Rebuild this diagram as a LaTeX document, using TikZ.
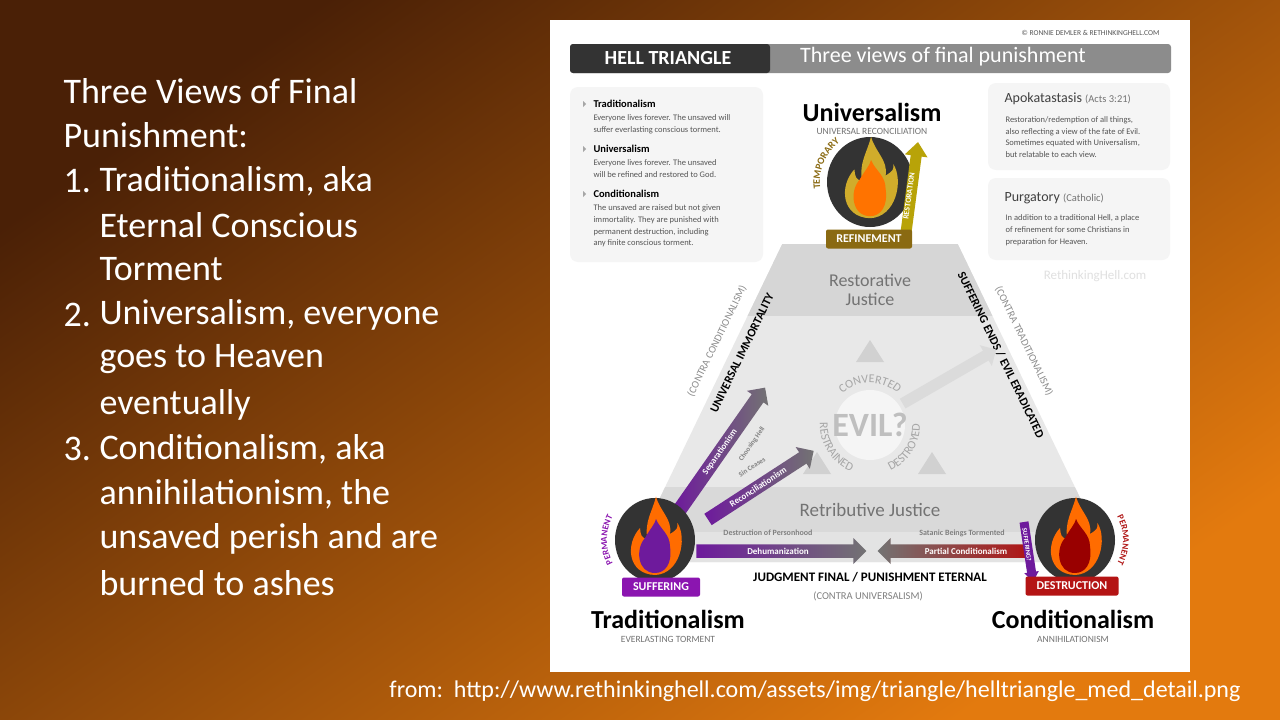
\documentclass[tikz,border=0pt]{standalone}
\usepackage{fontspec}
\setmainfont{Carlito}
\usetikzlibrary{shapes.arrows,decorations.text,arrows.meta}
\definecolor{bgA}{HTML}{4A2006}
\definecolor{bgB}{HTML}{E37A0E}
\definecolor{pur}{HTML}{6E1A9C}
\definecolor{redd}{HTML}{B01515}
\definecolor{gold}{HTML}{8A6A12}
\definecolor{yel}{HTML}{D9C00A}
\definecolor{txg}{HTML}{555555}
\tikzset{
 slide/.style={text=white,anchor=west,font=\fontsize{36}{40}\selectfont},
 fs/.style={font=\fontsize{#1}{#1}\selectfont},
 bfs/.style={font=\fontsize{#1}{#1}\selectfont\bfseries},
 hd/.style={anchor=west,font=\fontsize{10.5}{11}\selectfont\bfseries},
 bd/.style={anchor=west,text=txg,font=\fontsize{8.5}{9}\selectfont},
 bigarr/.style={single arrow,draw=none,minimum width=26pt,single arrow head extend=5pt,single arrow tip angle=90,inner sep=2pt,text=white,font=\fontsize{9}{9}\selectfont\bfseries},
 lab/.style={rounded corners=2pt,text=white,font=\fontsize{12}{12}\selectfont\bfseries,minimum height=19pt},
}
\newcommand\myflame[2]{%
 \fill[#1] (0,-0.62) .. controls (-0.55,-0.6) and (-0.6,0) .. (-0.3,0.32) .. controls (-0.28,0.15) .. (-0.15,0.08) .. controls (-0.22,0.45) and (-0.05,0.65) .. (0.02,0.95) .. controls (0.1,0.65) and (0.35,0.5) .. (0.3,0.2) .. controls (0.45,0.3) .. (0.45,0.42) .. controls (0.65,0.1) and (0.5,-0.6) .. cycle;
 \fill[#2] (0,-0.58) .. controls (-0.35,-0.58) and (-0.4,-0.1) .. (-0.2,0.12) .. controls (-0.1,0.3) and (0,0.4) .. (0.02,0.5) .. controls (0.1,0.3) and (0.3,0.2) .. (0.3,-0.05) .. controls (0.35,-0.4) and (0.2,-0.58) .. cycle;}
\begin{document}
\begin{tikzpicture}[x=1pt,y=-1pt]
\useasboundingbox (0,0) rectangle (1280,720);
\shade[top color=bgA,bottom color=bgB,shading angle=35] (0,0) rectangle (1280,720);
% slide text
\node[slide] (t0) at (60,91) {Three Views of Final};
\node[slide] (t1) at (60,135) {Punishment:};
\node[slide] (n1) at (60,181) {1.};
\node[slide] (t2) at (96,181) {Traditionalism, aka};
\node[slide] (t3) at (96,225) {Eternal Conscious};
\node[slide] (t4) at (96,269) {Torment};
\node[slide] (n2) at (60,315) {2.};
\node[slide] (t5) at (96,315) {Universalism, everyone};
\node[slide] (t6) at (96,359) {goes to Heaven};
\node[slide] (t7) at (96,405) {eventually};
\node[slide] (n3) at (60,449) {3.};
\node[slide] (t8) at (96,449) {Conditionalism, aka};
\node[slide] (t9) at (96,494) {annihilationism, the};
\node[slide] (t10) at (96,539) {unsaved perish and are};
\node[slide] (t11) at (96,583) {burned to ashes};
\node[text=white,fs=24] (src) at (815,691) {from:\ \ http://www.rethinkinghell.com/assets/img/triangle/helltriangle\_med\_detail.png};
% panel
\fill[white] (550,20) rectangle (1190,672);
\node[anchor=east,text=txg,fs=7.5] (copy) at (1163,33) {© RONNIE DEMLER \& RETHINKINGHELL.COM};
\fill[black!45,rounded corners=3pt] (570,44) rectangle (1171,73);
\fill[black!80,rounded corners=3pt] (570,44) rectangle (770,73);
\fill[black!80] (740,44) rectangle (763,73);
\node[text=white,bfs=20] (ht) at (668,58) {HELL TRIANGLE};
\node[text=white,fs=22] (tv) at (943,57) {Three views of final punishment};
% info boxes
\fill[black!4,rounded corners=8pt] (570,87) rectangle (763,262);
\fill[black!4,rounded corners=8pt] (988,83) rectangle (1170,170);
\fill[black!4,rounded corners=8pt] (988,178) rectangle (1170,260);
\foreach \yy in {104,149,194} \fill[black!35] (583,\yy-3) -- (586,\yy) -- (583,\yy+3) -- cycle;
\node[hd] (h1) at (590,104) {Traditionalism};
\node[bd] (b1) at (590,118) {Everyone lives forever. The unsaved will};
\node[bd] (b2) at (590,130) {suffer everlasting conscious torment.};
\node[hd] (h2) at (590,149) {Universalism};
\node[bd] (b3) at (590,163) {Everyone lives forever. The unsaved};
\node[bd] (b4) at (590,175) {will be refined and restored to God.};
\node[hd] (h3) at (590,194) {Conditionalism};
\node[bd] (b5) at (590,208) {The unsaved are raised but not given};
\node[bd] (b6) at (590,220) {immortality. They are punished with};
\node[bd] (b7) at (590,232) {permanent destruction, including};
\node[bd] (b8) at (590,243) {any finite conscious torment.};
\node[anchor=west,text=black!75,fs=14] (ap) at (1001,99) {Apokatastasis {\fontsize{10.5}{10}\selectfont\color{black!55}(Acts 3:21)}};
\node[bd] (a1) at (1002,120) {Restoration/redemption of all things,};
\node[bd] (a2) at (1002,132) {also reflecting a view of the fate of Evil.};
\node[bd] (a3) at (1002,143) {Sometimes equated with Universalism,};
\node[bd] (a4) at (1002,155) {but relatable to each view.};
\node[anchor=west,text=black!75,fs=14] (pu) at (1001,198) {Purgatory {\fontsize{10.5}{10}\selectfont\color{black!55}(Catholic)}};
\node[bd] (p1) at (1002,218) {In addition to a traditional Hell, a place};
\node[bd] (p2) at (1002,230) {of refinement for some Christians in};
\node[bd] (p3) at (1002,242) {preparation for Heaven.};
\node[text=black!12,fs=13] (rh) at (1095,276) {RethinkingHell.com};
% triangle
\begin{scope}
\clip (870,62) -- (1111,562) -- (629,562) -- cycle;
\fill[black!9] (600,244) rectangle (1140,565);
\fill[black!16] (600,244) rectangle (1140,316);
\fill[black!15] (600,487) rectangle (1140,532);
\fill[black!11] (600,532) rectangle (1140,565);
\end{scope}
\node[text=black!55,fs=18,align=center] (rj) at (870,290) {Restorative\\[1pt]Justice};
\node[text=black!55,fs=19] (ret) at (870,510) {Retributive Justice};
% edge labels
\node[rotate=64,bfs=12] (ui) at (742,353) {UNIVERSAL IMMORTALITY};
\node[rotate=64,fs=10.5,text=black!45] (cc) at (717,341) {(CONTRA CONDITIONALISM)};
\node[rotate=-64,bfs=12] (se) at (1001,355) {SUFFERING ENDS / EVIL ERADICATED};
\node[rotate=-64,fs=10.5,text=black!45] (ct) at (1024,341) {(CONTRA TRADITIONALISM)};
\node[bfs=13] (jf) at (870,577) {JUDGMENT FINAL / PUNISHMENT ETERNAL};
\node[fs=10.5,text=black!50] (cu) at (868,596) {(CONTRA UNIVERSALISM)};
% evil
\fill[black!18] (856,362) -- (884,362) -- (870,340) -- cycle;
\fill[black!18] (803,474) -- (831,474) -- (817,452) -- cycle;
\fill[black!18] (918,474) -- (946,474) -- (932,452) -- cycle;
\node[single arrow,draw=none,fill=black!14,minimum width=24pt,single arrow head extend=4pt,minimum height=108pt,rotate=30] (ga) at (947,378) {};
\fill[black!4] (870,425) circle (35);
\node[text=black!25,bfs=34] (evil) at (870,425) {EVIL?};
\begin{scope}[shift={(870,425)},y=1pt]
\path[decorate,decoration={text along path,text align=center,text={|\color{black!35}\fontsize{12}{12}\selectfont|CONVERTED}}] (148:42) arc[start angle=148,end angle=32,radius=42];
\path[decorate,decoration={text along path,text align=center,text={|\color{black!35}\fontsize{12}{12}\selectfont|RESTRAINED}}] (160:50) arc[start angle=160,end angle=265,radius=50];
\path[decorate,decoration={text along path,text align=center,text={|\color{black!35}\fontsize{12}{12}\selectfont|DESTROYED}}] (280:50) arc[start angle=280,end angle=375,radius=50];
\end{scope}
% arrows
\node[bigarr,left color=pur,right color=black!55,minimum height=150pt,rotate=55] (sep) at (720,452) {Separationism\hspace{45pt}};
\node[bigarr,left color=pur,right color=black!55,minimum height=126pt,rotate=33] (rec) at (758,487) {Reconciliationism\hspace{18pt}};
\node[bigarr,left color=pur,right color=black!55,minimum height=170pt] (deh) at (778,551) {Dehumanization\hspace{20pt}};
\node[bigarr,shape border rotate=180,left color=black!55,right color=redd,minimum height=150pt] (pc) at (956,551) {\hspace{20pt}Partial Conditionalism};
\node[rotate=55,text=black!50,bfs=7] (ch) at (752,444) {Choosing Hell};
\node[rotate=33,text=black!50,bfs=7] (sc) at (752,467) {Sin Ceases};
\node[text=black!50,bfs=8] (dp) at (768,533) {Destruction of Personhood};
\node[text=black!50,bfs=8] (sb) at (962,533) {Satanic Beings Tormented};
% circles
\fill[black!80] (870,182) ellipse (43 and 45);
\fill[black!80] (655,540) ellipse (40 and 42);
\fill[black!80] (1075,540) ellipse (40 and 42);
\begin{scope}[shift={(870,186)},x=52pt,y=52pt]\myflame{yellow!60!orange!80!black}{orange!90!red}\end{scope}
\begin{scope}[shift={(655,544)},x=50pt,y=50pt]\myflame{orange!85!red}{pur}\end{scope}
\begin{scope}[shift={(1075,544)},x=50pt,y=50pt]\myflame{orange!85!red}{red!60!black}\end{scope}
% restoration arrow
\draw[yel!85!black,line width=11pt,-{Triangle[width=22pt,length=14pt]}] (890,240) -- (905,240) -- (918,142);
\node[rotate=82,text=white,bfs=8] (rs) at (909,196) {RESTORATION};
% suffering? arrow
\draw[pur,line width=9pt,-{Triangle[width=14pt,length=10pt]}] (1024,522) -- (1033,582);
\node[rotate=-82,text=white,bfs=6.5] (sq) at (1027,545) {SUFFERING?};
% labels
\node[lab,fill=gold,minimum width=86pt] (ref) at (869,239) {REFINEMENT};
\node[lab,fill=pur!80!magenta,minimum width=78pt] (suf) at (661,587) {SUFFERING};
\node[lab,fill=redd!95!red,minimum width=93pt] (des) at (1072,586) {DESTRUCTION};
\begin{scope}[shift={(870,182)},y=1pt]
\path[decorate,decoration={text along path,text align=center,text={|\color{gold}\fontsize{10}{10}\selectfont\bfseries|TEMPORARY}}] (205:50) arc[start angle=205,end angle=110,radius=50];
\end{scope}
\begin{scope}[shift={(655,540)},y=1pt]
\path[decorate,decoration={text along path,text align=center,text={|\color{pur!80!magenta}\fontsize{9}{9}\selectfont\bfseries|PERMANENT}}] (225:48) arc[start angle=225,end angle=135,radius=48];
\end{scope}
\begin{scope}[shift={(1075,540)},y=1pt]
\path[decorate,decoration={text along path,text align=center,text={|\color{redd}\fontsize{9}{9}\selectfont\bfseries|PERMANENT}}] (45:48) arc[start angle=45,end angle=-45,radius=48];
\end{scope}
% titles
\node[bfs=26] (un) at (872,112) {Universalism};
\node[fs=9.5,text=black!55] (ur) at (872,131) {UNIVERSAL RECONCILIATION};
\node[bfs=26] (tr) at (668,619) {Traditionalism};
\node[fs=9.5,text=black!55] (et) at (668,639) {EVERLASTING TORMENT};
\node[bfs=26] (co) at (1073,619) {Conditionalism};
\node[fs=9.5,text=black!55] (an) at (1073,639) {ANNIHILATIONISM};
\end{tikzpicture}
\end{document}
